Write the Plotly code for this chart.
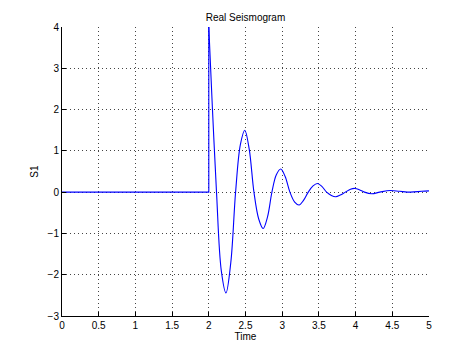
import plotly.graph_objects as go

# Flat pre-event part and the step
step_t = [0.0, 2.0, 2.0]
step_v = [0.0, 0.0, 4.0]

# Damped oscillation
osc_t = [2.0, 2.05, 2.105, 2.17, 2.234, 2.30, 2.365, 2.43, 2.49, 2.55, 2.615, 2.68, 2.74,
         2.80, 2.86, 2.92, 2.98, 3.04, 3.105, 3.17, 3.23, 3.29, 3.355, 3.42, 3.48, 3.54,
         3.605, 3.67, 3.73, 3.79, 3.86, 3.93, 3.99, 4.05, 4.12, 4.22, 4.33, 4.47, 4.6,
         4.75, 4.9, 5.0]
osc_v = [4.0, 2.0, 0.0, -1.9, -2.44, -1.7, 0.0, 1.15, 1.50, 1.05, 0.0, -0.65, -0.88,
         -0.6, 0.0, 0.42, 0.56, 0.38, 0.0, -0.24, -0.31, -0.2, 0.0, 0.15, 0.21, 0.14,
         0.0, -0.08, -0.11, -0.07, 0.0, 0.07, 0.09, 0.06, 0.0, -0.04, 0.0, 0.04, 0.02,
         0.0, 0.02, 0.03]

x_ticks = [0, 0.5, 1, 1.5, 2, 2.5, 3, 3.5, 4, 4.5, 5]
x_tick_labels = ["0", "0.5", "1", "1.5", "2", "2.5", "3", "3.5", "4", "4.5", "5"]
y_ticks = [-3, -2, -1, 0, 1, 2, 3, 4]

fig = go.Figure()
fig.add_trace(go.Scatter(x=step_t, y=step_v, mode="lines",
                         line=dict(color="#0000ff", width=1.1), showlegend=False))
fig.add_trace(go.Scatter(x=osc_t, y=osc_v, mode="lines",
                         line=dict(color="#0000ff", width=1.1, shape="spline", smoothing=1.0),
                         showlegend=False))

font = dict(family="Liberation Sans, Arial, sans-serif", size=10, color="black")
grid = dict(showgrid=True, gridcolor="#444444", griddash="1px,3px", gridwidth=1)

fig.update_layout(
    width=474, height=355,
    margin=dict(l=62, r=45, t=27, b=39),
    paper_bgcolor="white", plot_bgcolor="white",
    font=font,
    title=dict(text="Real Seismogram", x=0.5, xref="paper", xanchor="center",
               y=1, yref="paper", yanchor="bottom", pad=dict(b=6),
               font=font),
    xaxis=dict(range=[0, 5], tickvals=x_ticks, ticktext=x_tick_labels, **grid,
               zeroline=False, showline=True, linecolor="black", linewidth=1,
               ticks="inside", ticklen=4, tickcolor="black",
               title=dict(text="Time", standoff=2, font=font), tickfont=font),
    yaxis=dict(range=[-3, 4], tickvals=y_ticks, **grid,
               zeroline=False, showline=True, linecolor="black", linewidth=1,
               ticks="inside", ticklen=4, tickcolor="black",
               title=dict(text="S1", standoff=7, font=font), tickfont=font),
)

fig.write_html("out.html")
